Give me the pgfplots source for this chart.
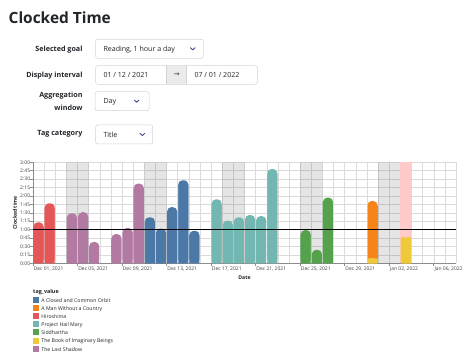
\documentclass[border=0pt]{standalone}
\usepackage{pgfplots}
\usepackage{pgfplotstable}
\pgfplotsset{compat=1.18}
\usepackage{fontspec}
\setmainfont{Open Sans}
\newfontfamily\symfont{DejaVu Sans}

\definecolor{cblue}{HTML}{4C78A8}
\definecolor{corange}{HTML}{F58518}
\definecolor{cred}{HTML}{E45756}
\definecolor{cteal}{HTML}{72B7B2}
\definecolor{cgreen}{HTML}{54A24B}
\definecolor{cyellow}{HTML}{EECA3B}
\definecolor{cpurple}{HTML}{B279A2}
\definecolor{boxborder}{HTML}{CED4DA}
\definecolor{chev}{HTML}{3B4A8C}
\definecolor{pinkband}{HTML}{FFCACA}
\definecolor{uitext}{HTML}{212529}

% day index: 0 = Dec 01 2021; bar centred at day+0.5; minutes
\pgfplotstableread{
x y
10.5 82
11.5 62
12.5 100
13.5 148
14.5 58
}\tblblue
\pgfplotstableread{
x y
30.5 111
}\tblorange
\pgfplotstableread{
x y
0.5 73
1.5 107
}\tblred
\pgfplotstableread{
x y
16.5 114
17.5 76
18.5 82
19.5 86
20.5 84
21.5 168
}\tblteal
\pgfplotstableread{
x y
24.5 59
25.5 24
26.5 117
}\tblgreen
\pgfplotstableread{
x y
30.5 9
33.5 46
}\tblyellow
\pgfplotstableread{
x y
3.5 89
4.5 91
5.5 38
7.5 52
8.5 63
9.5 142
}\tblpurple
\pgfplotstableread{
x y
3.5 180
4.5 180
10.5 180
11.5 180
17.5 180
18.5 180
24.5 180
25.5 180
31.5 180
32.5 180
}\tblweekend
\pgfplotstableread{
x y
33.5 180
}\tbltoday

\pgfplotsset{
  rbar/.style={ybar, bar width=0.9, bar shift=0pt, draw=none, fill=#1, rounded corners=4.2bp, forget plot},
  sbar/.style={ybar, bar width=0.9, bar shift=0pt, draw=none, fill=#1, forget plot},
  band/.style={ybar, bar width=1, bar shift=0pt, draw=none, forget plot},
}

\newcommand{\uilabel}[3]{\node[anchor=base east, inner sep=0pt, font=\fontsize{7.2}{9}\selectfont\bfseries, text=uitext] at (#1bp,#2bp) {#3};}
\newcommand{\uibox}[4]{\draw[boxborder, line width=0.5bp, rounded corners=2bp] (#1bp,#2bp) rectangle (#3bp,#4bp);}
\newcommand{\uitext}[3]{\node[anchor=base west, inner sep=0pt, font=\fontsize{7.1}{9}\selectfont, text=uitext] at (#1bp,#2bp) {#3};}
\newcommand{\chevron}[2]{\draw[chev, line width=0.9bp, line cap=round, line join=round] (#1bp-2.3bp,#2bp+1.1bp) -- (#1bp,#2bp-1.1bp) -- (#1bp+2.3bp,#2bp+1.1bp);}

\begin{document}
\begin{tikzpicture}
\path[use as bounding box, fill=white] (0,0) rectangle (474bp,352bp);

% ---- header and form ----
\node[anchor=base west, inner sep=0pt, font=\fontsize{15.5}{18}\selectfont\bfseries, text=uitext] at (8.5bp,328.7bp) {Clocked Time};

\uilabel{82.7}{300.6}{Selected goal}
\uibox{95.7}{293.7}{203.3}{312.7}
\uitext{103.3}{300.6}{Reading, 1 hour a day}
\chevron{192.7}{303.2}

\uilabel{82.7}{274.4}{Display interval}
\fill[black!8] (166.7bp,267.7bp) rectangle (186.7bp,286.3bp);
\draw[boxborder, line width=0.5bp, rounded corners=2bp] (95.7bp,267.7bp) rectangle (257.3bp,286.3bp);
\draw[boxborder, line width=0.5bp] (166.7bp,267.7bp) -- (166.7bp,286.3bp) (186.7bp,267.7bp) -- (186.7bp,286.3bp);
\uitext{103.3}{274.4}{01 / 12 / 2021}
\uitext{194.3}{274.4}{07 / 01 / 2022}
\node[inner sep=0pt, font=\fontsize{7}{8}\selectfont\symfont\bfseries, text=black!65] at (176.7bp,277bp) {→};

\uilabel{82.7}{254.3}{Aggregation}
\uilabel{82.7}{241.6}{window}
\uibox{95}{241.3}{149}{260.3}
\uitext{103.3}{248.2}{Day}
\chevron{136.7}{250.8}

\uilabel{82.7}{216}{Tag category}
\uibox{95.7}{208}{152.7}{227}
\uitext{103.3}{214.9}{Title}
\chevron{142.3}{217.5}

% legend title
\node[anchor=base west, inner sep=0pt, font=\fontsize{5.4}{6}\selectfont\bfseries, text=uitext] at (33bp,58.8bp) {tag\_value};

\begin{axis}[
  at={(33bp,88.7bp)}, anchor=south west,
  scale only axis, width=423bp, height=101bp,
  xmin=0, xmax=38, ymin=0, ymax=180,
  xtick={0,4,...,36},
  xticklabels={{Dec 01, 2021},{Dec 05, 2021},{Dec 09, 2021},{Dec 13, 2021},{Dec 17, 2021},{Dec 21, 2021},{Dec 25, 2021},{Dec 29, 2021},{Jan 02, 2022},{Jan 06, 2022}},
  minor xtick={0,1,...,38},
  ytick={0,15,...,180},
  yticklabels={0:00,0:15,0:30,0:45,1:00,1:15,1:30,1:45,2:00,2:15,2:30,2:45,3:00},
  grid=both,
  major grid style={black!14, line width=0.45bp},
  minor grid style={black!14, line width=0.45bp},
  axis x line*=bottom, axis y line*=left,
  axis line style={black!45, line width=0.5bp, -},
  tick align=outside, major tick length=2.5bp, minor tick length=0pt,
  tick style={black!45, line width=0.5bp},
  ticklabel style={font=\fontsize{5}{6}\selectfont, text=black!75},
  xticklabel style={anchor=north west, inner sep=0pt, xshift=0.6bp, yshift=-1.2bp},
  yticklabel style={anchor=east, inner sep=0pt, xshift=-0.2bp},
  /pgf/number format/assume math mode=true,
  xlabel={Date}, ylabel={Clocked time},
  every axis x label/.style={at={(rel axis cs:0.5,0)}, anchor=center, yshift=-14.4bp,
    font=\fontsize{5.2}{6}\selectfont\bfseries, text=uitext},
  every axis y label/.style={at={(rel axis cs:0,0.5)}, anchor=center, rotate=90, yshift=18bp,
    font=\fontsize{5.2}{6}\selectfont\bfseries, text=uitext},
  legend style={at={(0,0)}, anchor=north west, xshift=0.3bp, yshift=-33.5bp,
    draw=none, fill=none, inner sep=0pt, outer sep=0pt, row sep=1.67bp,
    font=\fontsize{5.2}{6}\selectfont, text=uitext,
    nodes={inner sep=0pt, text height=3.8bp, text depth=1.2bp},
    /tikz/every odd column/.append style={column sep=2.7bp}},
  legend cell align=left,
]
% weekend and today bands
\addplot[band, fill=black, fill opacity=0.1] table[x=x,y=y] {\tblweekend};
\addplot[band, fill=pinkband] table[x=x,y=y] {\tbltoday};

% bars: rounded top part, then square lower part
\addplot[rbar=cblue] table[x=x,y=y] {\tblblue};
\addplot[sbar=cblue] table[x=x,y expr=\thisrow{y}-8] {\tblblue};
\addplot[rbar=corange] table[x=x,y=y] {\tblorange};
\addplot[sbar=corange] table[x=x,y expr=\thisrow{y}-8] {\tblorange};
\addplot[rbar=cred] table[x=x,y=y] {\tblred};
\addplot[sbar=cred] table[x=x,y expr=\thisrow{y}-8] {\tblred};
\addplot[rbar=cteal] table[x=x,y=y] {\tblteal};
\addplot[sbar=cteal] table[x=x,y expr=\thisrow{y}-8] {\tblteal};
\addplot[rbar=cgreen] table[x=x,y=y] {\tblgreen};
\addplot[sbar=cgreen] table[x=x,y expr=\thisrow{y}-8] {\tblgreen};
\addplot[rbar=cyellow] table[x=x,y=y] {\tblyellow};
\addplot[sbar=cyellow] table[x=x,y expr=\thisrow{y}-8] {\tblyellow};
\addplot[sbar=cyellow] table[x=x,y=y] {\tblyellow};
\addplot[rbar=cpurple] table[x=x,y=y] {\tblpurple};
\addplot[sbar=cpurple] table[x=x,y expr=\thisrow{y}-8] {\tblpurple};

% goal line (1 hour a day)
\addplot[black, line width=1.1bp, forget plot] coordinates {(0,60) (38,60)};

% legend
\addlegendimage{legend image code/.code={\fill[cblue] (0bp,-1.2bp) rectangle (5bp,3.8bp);}}
\addlegendentry{A Closed and Common Orbit}
\addlegendimage{legend image code/.code={\fill[corange] (0bp,-1.2bp) rectangle (5bp,3.8bp);}}
\addlegendentry{A Man Without a Country}
\addlegendimage{legend image code/.code={\fill[cred] (0bp,-1.2bp) rectangle (5bp,3.8bp);}}
\addlegendentry{Hiroshima}
\addlegendimage{legend image code/.code={\fill[cteal] (0bp,-1.2bp) rectangle (5bp,3.8bp);}}
\addlegendentry{Project Hail Mary}
\addlegendimage{legend image code/.code={\fill[cgreen] (0bp,-1.2bp) rectangle (5bp,3.8bp);}}
\addlegendentry{Siddhartha}
\addlegendimage{legend image code/.code={\fill[cyellow] (0bp,-1.2bp) rectangle (5bp,3.8bp);}}
\addlegendentry{The Book of Imaginary Beings}
\addlegendimage{legend image code/.code={\fill[cpurple] (0bp,-1.2bp) rectangle (5bp,3.8bp);}}
\addlegendentry{The Last Shadow}
\end{axis}
\end{tikzpicture}
\end{document}
